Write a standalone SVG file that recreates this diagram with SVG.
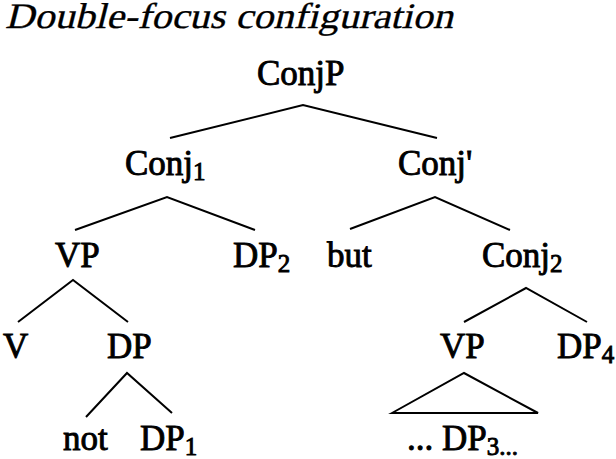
<svg xmlns="http://www.w3.org/2000/svg" width="616" height="459" viewBox="0 0 616 459">
<style>
.t{font-family:"Liberation Serif","Times New Roman",serif;font-size:35px;fill:#000;stroke:#000;stroke-width:0.9}
.s{font-size:25px}
.title{font-family:"Liberation Serif","Times New Roman",serif;font-size:36px;fill:#000;stroke:#000;stroke-width:0.3}
.e{stroke:#000;stroke-width:2;fill:none}
</style>
<rect width="616" height="459" fill="#fff"/>
<text class="title" transform="translate(0,28) skewX(-14)" x="5" y="0" textLength="448" lengthAdjust="spacingAndGlyphs">Double-focus configuration</text>
<g id="edges">
<polyline class="e" points="170,138 303,105 437,138"/>
<polyline class="e" points="75,230 167,197 255,230"/>
<polyline class="e" points="350,229 435,197 510,230"/>
<polyline class="e" points="18,322 73,280 128,322"/>
<polyline class="e" points="464,322 526,288 587,322"/>
<polyline class="e" points="86,417 127,373 172,413"/>
<polygon class="e" points="392,413 464,373 538,413"/>
</g>
<g id="n-conjp"><text class="t" x="257" y="85">ConjP</text></g>
<g id="n-conj1"><text class="t" x="125" y="175">Conj<tspan class="s" dy="5">1</tspan></text></g>
<g id="n-conjbar"><text class="t" x="398" y="175">Conj'</text></g>
<g id="n-vp1"><text class="t" x="55" y="267">VP</text></g>
<g id="n-dp2"><text class="t" x="233" y="267">DP<tspan class="s" dy="5">2</tspan></text></g>
<g id="n-but"><text class="t" x="327" y="267">but</text></g>
<g id="n-conj2"><text class="t" x="482" y="267">Conj<tspan class="s" dy="5">2</tspan></text></g>
<g id="n-v"><text class="t" x="3" y="358">V</text></g>
<g id="n-dp"><text class="t" x="107" y="358">DP</text></g>
<g id="n-vp2"><text class="t" x="440" y="358">VP</text></g>
<g id="n-dp4"><text class="t" x="557" y="358">DP<tspan class="s" dy="5">4</tspan></text></g>
<g id="n-not"><text class="t" x="63" y="450">not</text></g>
<g id="n-dp1"><text class="t" x="140" y="450">DP<tspan class="s" dy="5">1</tspan></text></g>
<g id="n-dp3"><text class="t" x="407" y="450">... DP<tspan class="s" dy="5">3...</tspan></text></g>
</svg>
